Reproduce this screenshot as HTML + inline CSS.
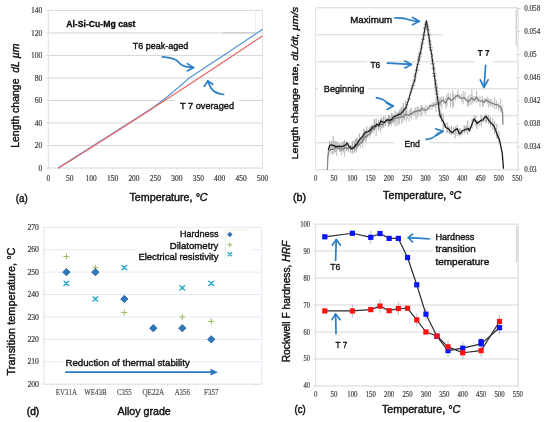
<!DOCTYPE html>
<html><head><meta charset="utf-8"><style>
html,body{margin:0;padding:0;background:#fff;}
svg{display:block;will-change:transform;filter:blur(0.3px);}
</style></head><body>
<svg width="550" height="422" viewBox="0 0 550 422">
<rect width="550" height="422" fill="#fff"/>
<line x1="46.30" y1="168.00" x2="262.50" y2="168.00" stroke="#d6d6d6" stroke-width="1"/>
<line x1="46.30" y1="145.49" x2="262.50" y2="145.49" stroke="#d6d6d6" stroke-width="1"/>
<line x1="46.30" y1="122.97" x2="262.50" y2="122.97" stroke="#d6d6d6" stroke-width="1"/>
<line x1="46.30" y1="100.46" x2="175.50" y2="100.46" stroke="#d6d6d6" stroke-width="1"/>
<line x1="239.00" y1="100.46" x2="262.50" y2="100.46" stroke="#d6d6d6" stroke-width="1"/>
<line x1="46.30" y1="77.94" x2="262.50" y2="77.94" stroke="#d6d6d6" stroke-width="1"/>
<line x1="46.30" y1="55.43" x2="262.50" y2="55.43" stroke="#d6d6d6" stroke-width="1"/>
<line x1="46.30" y1="32.92" x2="262.50" y2="32.92" stroke="#d6d6d6" stroke-width="1"/>
<line x1="46.30" y1="10.40" x2="262.50" y2="10.40" stroke="#d6d6d6" stroke-width="1"/>
<line x1="48.30" y1="10.40" x2="48.30" y2="168.00" stroke="#e2e2e2" stroke-width="1"/>
<line x1="262.50" y1="10.40" x2="262.50" y2="168.00" stroke="#e2e2e2" stroke-width="1"/>
<line x1="48.30" y1="168.00" x2="48.30" y2="170.00" stroke="#e2e2e2" stroke-width="1"/>
<line x1="69.72" y1="168.00" x2="69.72" y2="170.00" stroke="#e2e2e2" stroke-width="1"/>
<line x1="91.15" y1="168.00" x2="91.15" y2="170.00" stroke="#e2e2e2" stroke-width="1"/>
<line x1="112.58" y1="168.00" x2="112.58" y2="170.00" stroke="#e2e2e2" stroke-width="1"/>
<line x1="134.00" y1="168.00" x2="134.00" y2="170.00" stroke="#e2e2e2" stroke-width="1"/>
<line x1="155.43" y1="168.00" x2="155.43" y2="170.00" stroke="#e2e2e2" stroke-width="1"/>
<line x1="176.85" y1="168.00" x2="176.85" y2="170.00" stroke="#e2e2e2" stroke-width="1"/>
<line x1="198.27" y1="168.00" x2="198.27" y2="170.00" stroke="#e2e2e2" stroke-width="1"/>
<line x1="219.70" y1="168.00" x2="219.70" y2="170.00" stroke="#e2e2e2" stroke-width="1"/>
<line x1="241.12" y1="168.00" x2="241.12" y2="170.00" stroke="#e2e2e2" stroke-width="1"/>
<line x1="262.55" y1="168.00" x2="262.55" y2="170.00" stroke="#e2e2e2" stroke-width="1"/>
<text x="42.20" y="170.60" font-family='"Liberation Serif", serif' font-size="7.8" font-weight="normal" text-anchor="end" fill="#404040" textLength="3.77" lengthAdjust="spacingAndGlyphs" stroke="#404040" stroke-width="0.2">0</text>
<text x="42.20" y="148.09" font-family='"Liberation Serif", serif' font-size="7.8" font-weight="normal" text-anchor="end" fill="#404040" textLength="7.54" lengthAdjust="spacingAndGlyphs" stroke="#404040" stroke-width="0.2">20</text>
<text x="42.20" y="125.57" font-family='"Liberation Serif", serif' font-size="7.8" font-weight="normal" text-anchor="end" fill="#404040" textLength="7.54" lengthAdjust="spacingAndGlyphs" stroke="#404040" stroke-width="0.2">40</text>
<text x="42.20" y="103.06" font-family='"Liberation Serif", serif' font-size="7.8" font-weight="normal" text-anchor="end" fill="#404040" textLength="7.54" lengthAdjust="spacingAndGlyphs" stroke="#404040" stroke-width="0.2">60</text>
<text x="42.20" y="80.54" font-family='"Liberation Serif", serif' font-size="7.8" font-weight="normal" text-anchor="end" fill="#404040" textLength="7.54" lengthAdjust="spacingAndGlyphs" stroke="#404040" stroke-width="0.2">80</text>
<text x="42.20" y="58.03" font-family='"Liberation Serif", serif' font-size="7.8" font-weight="normal" text-anchor="end" fill="#404040" textLength="11.31" lengthAdjust="spacingAndGlyphs" stroke="#404040" stroke-width="0.2">100</text>
<text x="42.20" y="35.52" font-family='"Liberation Serif", serif' font-size="7.8" font-weight="normal" text-anchor="end" fill="#404040" textLength="11.31" lengthAdjust="spacingAndGlyphs" stroke="#404040" stroke-width="0.2">120</text>
<text x="42.20" y="13.00" font-family='"Liberation Serif", serif' font-size="7.8" font-weight="normal" text-anchor="end" fill="#404040" textLength="11.31" lengthAdjust="spacingAndGlyphs" stroke="#404040" stroke-width="0.2">140</text>
<text x="48.30" y="181.20" font-family='"Liberation Serif", serif' font-size="7.8" font-weight="normal" text-anchor="middle" fill="#404040" textLength="3.73" lengthAdjust="spacingAndGlyphs" stroke="#404040" stroke-width="0.2">0</text>
<text x="69.72" y="181.20" font-family='"Liberation Serif", serif' font-size="7.8" font-weight="normal" text-anchor="middle" fill="#404040" textLength="7.46" lengthAdjust="spacingAndGlyphs" stroke="#404040" stroke-width="0.2">50</text>
<text x="91.15" y="181.20" font-family='"Liberation Serif", serif' font-size="7.8" font-weight="normal" text-anchor="middle" fill="#404040" textLength="11.19" lengthAdjust="spacingAndGlyphs" stroke="#404040" stroke-width="0.2">100</text>
<text x="112.58" y="181.20" font-family='"Liberation Serif", serif' font-size="7.8" font-weight="normal" text-anchor="middle" fill="#404040" textLength="11.19" lengthAdjust="spacingAndGlyphs" stroke="#404040" stroke-width="0.2">150</text>
<text x="134.00" y="181.20" font-family='"Liberation Serif", serif' font-size="7.8" font-weight="normal" text-anchor="middle" fill="#404040" textLength="11.19" lengthAdjust="spacingAndGlyphs" stroke="#404040" stroke-width="0.2">200</text>
<text x="155.43" y="181.20" font-family='"Liberation Serif", serif' font-size="7.8" font-weight="normal" text-anchor="middle" fill="#404040" textLength="11.19" lengthAdjust="spacingAndGlyphs" stroke="#404040" stroke-width="0.2">250</text>
<text x="176.85" y="181.20" font-family='"Liberation Serif", serif' font-size="7.8" font-weight="normal" text-anchor="middle" fill="#404040" textLength="11.19" lengthAdjust="spacingAndGlyphs" stroke="#404040" stroke-width="0.2">300</text>
<text x="198.27" y="181.20" font-family='"Liberation Serif", serif' font-size="7.8" font-weight="normal" text-anchor="middle" fill="#404040" textLength="11.19" lengthAdjust="spacingAndGlyphs" stroke="#404040" stroke-width="0.2">350</text>
<text x="219.70" y="181.20" font-family='"Liberation Serif", serif' font-size="7.8" font-weight="normal" text-anchor="middle" fill="#404040" textLength="11.19" lengthAdjust="spacingAndGlyphs" stroke="#404040" stroke-width="0.2">400</text>
<text x="241.12" y="181.20" font-family='"Liberation Serif", serif' font-size="7.8" font-weight="normal" text-anchor="middle" fill="#404040" textLength="11.19" lengthAdjust="spacingAndGlyphs" stroke="#404040" stroke-width="0.2">450</text>
<text x="262.55" y="181.20" font-family='"Liberation Serif", serif' font-size="7.8" font-weight="normal" text-anchor="middle" fill="#404040" textLength="11.19" lengthAdjust="spacingAndGlyphs" stroke="#404040" stroke-width="0.2">500</text>
<line x1="223.00" y1="32.90" x2="255.50" y2="32.90" stroke="#c2c2c2" stroke-width="1"/>
<line x1="255.50" y1="10.50" x2="255.50" y2="32.00" stroke="#eeeeee" stroke-width="1"/>
<path d="M58.20,167.85 L59.20,167.22 L60.20,166.59 L61.20,165.96 L62.20,165.33 L63.20,164.70 L64.20,164.07 L65.20,163.44 L66.20,162.81 L67.20,162.18 L68.20,161.55 L69.20,160.92 L70.20,160.29 L71.20,159.66 L72.20,159.03 L73.20,158.40 L74.20,157.77 L75.20,157.14 L76.20,156.51 L77.20,155.88 L78.20,155.25 L79.20,154.62 L80.20,153.99 L81.20,153.36 L82.20,152.73 L83.20,152.10 L84.20,151.47 L85.20,150.84 L86.20,150.20 L87.20,149.57 L88.20,148.94 L89.20,148.31 L90.20,147.68 L91.20,147.05 L92.20,146.41 L93.20,145.78 L94.20,145.15 L95.20,144.52 L96.20,143.89 L97.20,143.25 L98.20,142.62 L99.20,141.99 L100.20,141.35 L101.20,140.72 L102.20,140.09 L103.20,139.45 L104.20,138.82 L105.20,138.18 L106.20,137.55 L107.20,136.92 L108.20,136.28 L109.20,135.65 L110.20,135.01 L111.20,134.38 L112.20,133.74 L113.20,133.10 L114.20,132.47 L115.20,131.83 L116.20,131.20 L117.20,130.56 L118.20,129.92 L119.20,129.29 L120.20,128.65 L121.20,128.01 L122.20,127.37 L123.20,126.74 L124.20,126.10 L125.20,125.46 L126.20,124.82 L127.20,124.18 L128.20,123.54 L129.20,122.90 L130.20,122.26 L131.20,121.62 L132.20,120.98 L133.20,120.34 L134.20,119.70 L135.20,119.06 L136.20,118.42 L137.20,117.78 L138.20,117.14 L139.20,116.49 L140.20,115.85 L141.20,115.21 L142.20,114.57 L143.20,113.92 L144.20,113.28 L145.20,112.64 L146.20,111.99 L147.20,111.35 L148.20,110.70 L149.20,110.06 L150.20,109.41 L151.20,108.74 L152.20,108.06 L153.20,107.37 L154.20,106.66 L155.20,105.94 L156.20,105.22 L157.20,104.48 L158.20,103.74 L159.20,103.00 L160.20,102.24 L161.20,101.48 L162.20,100.71 L163.20,99.93 L164.20,99.15 L165.20,98.36 L166.20,97.57 L167.20,96.77 L168.20,95.97 L169.20,95.16 L170.20,94.34 L171.20,93.52 L172.20,92.69 L173.20,91.86 L174.20,91.03 L175.20,90.19 L176.20,89.34 L177.20,88.49 L178.20,87.64 L179.20,86.78 L180.20,85.91 L181.20,85.04 L182.20,84.17 L183.20,83.29 L184.20,82.41 L185.20,81.52 L186.20,80.63 L187.20,79.74 L188.20,78.84 L189.20,77.99 L190.20,77.33 L191.20,76.67 L192.20,76.02 L193.20,75.36 L194.20,74.70 L195.20,74.05 L196.20,73.39 L197.20,72.73 L198.20,72.07 L199.20,71.41 L200.20,70.76 L201.20,70.10 L202.20,69.44 L203.20,68.78 L204.20,68.12 L205.20,67.46 L206.20,66.80 L207.20,66.14 L208.20,65.48 L209.20,64.82 L210.20,64.16 L211.20,63.50 L212.20,62.84 L213.20,62.17 L214.20,61.51 L215.20,60.85 L216.20,60.19 L217.20,59.53 L218.20,58.87 L219.20,58.20 L220.20,57.54 L221.20,56.88 L222.20,56.21 L223.20,55.55 L224.20,54.89 L225.20,54.22 L226.20,53.56 L227.20,52.90 L228.20,52.23 L229.20,51.57 L230.20,50.90 L231.20,50.24 L232.20,49.58 L233.20,48.91 L234.20,48.25 L235.20,47.58 L236.20,46.92 L237.20,46.25 L238.20,45.59 L239.20,44.92 L240.20,44.26 L241.20,43.59 L242.20,42.92 L243.20,42.26 L244.20,41.59 L245.20,40.93 L246.20,40.26 L247.20,39.60 L248.20,38.93 L249.20,38.26 L250.20,37.60 L251.20,36.93 L252.20,36.26 L253.20,35.60 L254.20,34.93 L255.20,34.27 L256.20,33.60 L257.20,32.93 L258.20,32.27 L259.20,31.60 L260.20,30.93 L261.20,30.27 L262.20,29.60 L262.50,29.40" stroke="#5a97d3" stroke-width="1.25" fill="none" stroke-linejoin="round"/>
<path d="M58.20,168.30 L59.20,167.67 L60.20,167.04 L61.20,166.41 L62.20,165.78 L63.20,165.15 L64.20,164.52 L65.20,163.89 L66.20,163.26 L67.20,162.63 L68.20,162.00 L69.20,161.37 L70.20,160.74 L71.20,160.11 L72.20,159.48 L73.20,158.85 L74.20,158.22 L75.20,157.59 L76.20,156.96 L77.20,156.33 L78.20,155.70 L79.20,155.07 L80.20,154.44 L81.20,153.81 L82.20,153.18 L83.20,152.55 L84.20,151.92 L85.20,151.29 L86.20,150.65 L87.20,150.02 L88.20,149.39 L89.20,148.76 L90.20,148.13 L91.20,147.50 L92.20,146.86 L93.20,146.23 L94.20,145.60 L95.20,144.97 L96.20,144.34 L97.20,143.70 L98.20,143.07 L99.20,142.44 L100.20,141.80 L101.20,141.17 L102.20,140.54 L103.20,139.90 L104.20,139.27 L105.20,138.63 L106.20,138.00 L107.20,137.37 L108.20,136.73 L109.20,136.10 L110.20,135.46 L111.20,134.83 L112.20,134.19 L113.20,133.55 L114.20,132.92 L115.20,132.28 L116.20,131.65 L117.20,131.01 L118.20,130.37 L119.20,129.74 L120.20,129.10 L121.20,128.46 L122.20,127.82 L123.20,127.19 L124.20,126.55 L125.20,125.91 L126.20,125.27 L127.20,124.63 L128.20,123.99 L129.20,123.35 L130.20,122.71 L131.20,122.07 L132.20,121.43 L133.20,120.79 L134.20,120.15 L135.20,119.51 L136.20,118.87 L137.20,118.23 L138.20,117.59 L139.20,116.94 L140.20,116.30 L141.20,115.66 L142.20,115.02 L143.20,114.37 L144.20,113.73 L145.20,113.09 L146.20,112.44 L147.20,111.80 L148.20,111.15 L149.20,110.51 L150.20,109.86 L151.20,109.22 L152.20,108.57 L153.20,107.93 L154.20,107.28 L155.20,106.63 L156.20,105.99 L157.20,105.34 L158.20,104.69 L159.20,104.05 L160.20,103.40 L161.20,102.75 L162.20,102.10 L163.20,101.45 L164.20,100.80 L165.20,100.15 L166.20,99.50 L167.20,98.85 L168.20,98.20 L169.20,97.55 L170.20,96.90 L171.20,96.25 L172.20,95.60 L173.20,94.95 L174.20,94.30 L175.20,93.65 L176.20,92.99 L177.20,92.34 L178.20,91.69 L179.20,91.03 L180.20,90.38 L181.20,89.73 L182.20,89.07 L183.20,88.42 L184.20,87.76 L185.20,87.11 L186.20,86.45 L187.20,85.80 L188.20,85.14 L189.20,84.49 L190.20,83.83 L191.20,83.17 L192.20,82.52 L193.20,81.86 L194.20,81.20 L195.20,80.55 L196.20,79.89 L197.20,79.23 L198.20,78.57 L199.20,77.91 L200.20,77.26 L201.20,76.60 L202.20,75.94 L203.20,75.28 L204.20,74.62 L205.20,73.96 L206.20,73.30 L207.20,72.64 L208.20,71.98 L209.20,71.32 L210.20,70.66 L211.20,70.00 L212.20,69.34 L213.20,68.67 L214.20,68.01 L215.20,67.35 L216.20,66.69 L217.20,66.03 L218.20,65.37 L219.20,64.70 L220.20,64.04 L221.20,63.38 L222.20,62.71 L223.20,62.05 L224.20,61.39 L225.20,60.72 L226.20,60.06 L227.20,59.40 L228.20,58.73 L229.20,58.07 L230.20,57.40 L231.20,56.74 L232.20,56.08 L233.20,55.41 L234.20,54.75 L235.20,54.08 L236.20,53.42 L237.20,52.75 L238.20,52.09 L239.20,51.42 L240.20,50.76 L241.20,50.09 L242.20,49.42 L243.20,48.76 L244.20,48.09 L245.20,47.43 L246.20,46.76 L247.20,46.10 L248.20,45.43 L249.20,44.76 L250.20,44.10 L251.20,43.43 L252.20,42.76 L253.20,42.10 L254.20,41.43 L255.20,40.77 L256.20,40.10 L257.20,39.43 L258.20,38.77 L259.20,38.10 L260.20,37.43 L261.20,36.77 L262.20,36.10 L262.50,35.90" stroke="#ea6767" stroke-width="1.25" fill="none" stroke-linejoin="round"/>
<text x="66.20" y="26.90" font-family='"Liberation Sans", sans-serif' font-size="9.3" font-weight="bold" text-anchor="start" fill="#0a0a0a" textLength="69.30" lengthAdjust="spacingAndGlyphs" stroke="#0a0a0a" stroke-width="0.3">Al-Si-Cu-Mg cast</text>
<text x="132.70" y="48.80" font-family='"Liberation Sans", sans-serif' font-size="9.9" font-weight="normal" text-anchor="start" fill="#111" textLength="55.50" lengthAdjust="spacingAndGlyphs" stroke="#111" stroke-width="0.4">T6 peak-aged</text>
<text x="180.00" y="109.10" font-family='"Liberation Sans", sans-serif' font-size="9.9" font-weight="normal" text-anchor="start" fill="#111" textLength="54.00" lengthAdjust="spacingAndGlyphs" stroke="#111" stroke-width="0.4">T 7 overaged</text>
<path d="M162.4,56.9 C170,57.5 176,58.5 178.5,62 C181,66 186,67.3 193.6,67.6" stroke="#2a7ec6" stroke-width="1.7" fill="none" stroke-linecap="round"/>
<path d="M187.3,63.6 L193.6,67.6 L187.3,70.9" stroke="#2a7ec6" stroke-width="1.7" fill="none" stroke-linecap="round" stroke-linejoin="round"/>
<path d="M223.6,94.5 C217,93.5 213,91.5 211,88 C209.5,85.5 208.5,83 207.8,80.9" stroke="#2a7ec6" stroke-width="1.7" fill="none" stroke-linecap="round"/>
<path d="M204.3,86.4 L207.8,80.9 L212.7,84.3" stroke="#2a7ec6" stroke-width="1.7" fill="none" stroke-linecap="round" stroke-linejoin="round"/>
<text transform="translate(19.10,147.80) rotate(-90)" font-family='"Liberation Sans", sans-serif' font-size="10.0" font-weight="normal" text-anchor="start" fill="#111" textLength="104.20" lengthAdjust="spacingAndGlyphs" stroke="#111" stroke-width="0.4">Length change  <tspan font-style="italic">dL µm</tspan></text>
<text x="129.50" y="201.00" font-family='"Liberation Sans", sans-serif' font-size="10.4" font-weight="normal" text-anchor="start" fill="#111" textLength="78.00" lengthAdjust="spacingAndGlyphs" stroke="#111" stroke-width="0.4">Temperature, <tspan font-style="italic">°C</tspan></text>
<text x="15.80" y="201.50" font-family='"Liberation Sans", sans-serif' font-size="10.4" font-weight="normal" text-anchor="start" fill="#111" textLength="12.00" lengthAdjust="spacingAndGlyphs" stroke="#111" stroke-width="0.4">(a)</text>
<line x1="315.60" y1="7.80" x2="518.00" y2="7.80" stroke="#d6d6d6" stroke-width="1"/>
<line x1="315.60" y1="34.80" x2="442.70" y2="34.80" stroke="#d6d6d6" stroke-width="1"/>
<line x1="315.60" y1="61.80" x2="367.00" y2="61.80" stroke="#d6d6d6" stroke-width="1"/>
<line x1="386.00" y1="61.80" x2="474.00" y2="61.80" stroke="#d6d6d6" stroke-width="1"/>
<line x1="493.00" y1="61.80" x2="518.00" y2="61.80" stroke="#d6d6d6" stroke-width="1"/>
<line x1="315.60" y1="88.80" x2="318.00" y2="88.80" stroke="#d6d6d6" stroke-width="1"/>
<line x1="367.40" y1="88.80" x2="518.00" y2="88.80" stroke="#d6d6d6" stroke-width="1"/>
<line x1="315.60" y1="115.80" x2="518.00" y2="115.80" stroke="#d6d6d6" stroke-width="1"/>
<line x1="315.60" y1="142.80" x2="394.20" y2="142.80" stroke="#d6d6d6" stroke-width="1"/>
<line x1="429.80" y1="142.80" x2="518.00" y2="142.80" stroke="#d6d6d6" stroke-width="1"/>
<line x1="315.60" y1="169.80" x2="518.00" y2="169.80" stroke="#d6d6d6" stroke-width="1"/>
<line x1="315.60" y1="7.80" x2="315.60" y2="169.80" stroke="#e2e2e2" stroke-width="1"/>
<line x1="518.00" y1="7.80" x2="518.00" y2="169.80" stroke="#d6d6d6" stroke-width="1"/>
<line x1="516.30" y1="9.60" x2="516.30" y2="45.90" stroke="#cdcdcd" stroke-width="1.2"/>
<line x1="315.60" y1="169.80" x2="315.60" y2="171.50" stroke="#e2e2e2" stroke-width="1"/>
<text x="315.60" y="180.80" font-family='"Liberation Serif", serif' font-size="7.6" font-weight="normal" text-anchor="middle" fill="#404040" textLength="3.37" lengthAdjust="spacingAndGlyphs" stroke="#404040" stroke-width="0.2">0</text>
<line x1="333.93" y1="169.80" x2="333.93" y2="171.50" stroke="#e2e2e2" stroke-width="1"/>
<text x="333.93" y="180.80" font-family='"Liberation Serif", serif' font-size="7.6" font-weight="normal" text-anchor="middle" fill="#404040" textLength="6.74" lengthAdjust="spacingAndGlyphs" stroke="#404040" stroke-width="0.2">50</text>
<line x1="352.26" y1="169.80" x2="352.26" y2="171.50" stroke="#e2e2e2" stroke-width="1"/>
<text x="352.26" y="180.80" font-family='"Liberation Serif", serif' font-size="7.6" font-weight="normal" text-anchor="middle" fill="#404040" textLength="10.11" lengthAdjust="spacingAndGlyphs" stroke="#404040" stroke-width="0.2">100</text>
<line x1="370.59" y1="169.80" x2="370.59" y2="171.50" stroke="#e2e2e2" stroke-width="1"/>
<text x="370.59" y="180.80" font-family='"Liberation Serif", serif' font-size="7.6" font-weight="normal" text-anchor="middle" fill="#404040" textLength="10.11" lengthAdjust="spacingAndGlyphs" stroke="#404040" stroke-width="0.2">150</text>
<line x1="388.92" y1="169.80" x2="388.92" y2="171.50" stroke="#e2e2e2" stroke-width="1"/>
<text x="388.92" y="180.80" font-family='"Liberation Serif", serif' font-size="7.6" font-weight="normal" text-anchor="middle" fill="#404040" textLength="10.11" lengthAdjust="spacingAndGlyphs" stroke="#404040" stroke-width="0.2">200</text>
<line x1="407.25" y1="169.80" x2="407.25" y2="171.50" stroke="#e2e2e2" stroke-width="1"/>
<text x="407.25" y="180.80" font-family='"Liberation Serif", serif' font-size="7.6" font-weight="normal" text-anchor="middle" fill="#404040" textLength="10.11" lengthAdjust="spacingAndGlyphs" stroke="#404040" stroke-width="0.2">250</text>
<line x1="425.58" y1="169.80" x2="425.58" y2="171.50" stroke="#e2e2e2" stroke-width="1"/>
<text x="425.58" y="180.80" font-family='"Liberation Serif", serif' font-size="7.6" font-weight="normal" text-anchor="middle" fill="#404040" textLength="10.11" lengthAdjust="spacingAndGlyphs" stroke="#404040" stroke-width="0.2">300</text>
<line x1="443.91" y1="169.80" x2="443.91" y2="171.50" stroke="#e2e2e2" stroke-width="1"/>
<text x="443.91" y="180.80" font-family='"Liberation Serif", serif' font-size="7.6" font-weight="normal" text-anchor="middle" fill="#404040" textLength="10.11" lengthAdjust="spacingAndGlyphs" stroke="#404040" stroke-width="0.2">350</text>
<line x1="462.24" y1="169.80" x2="462.24" y2="171.50" stroke="#e2e2e2" stroke-width="1"/>
<text x="462.24" y="180.80" font-family='"Liberation Serif", serif' font-size="7.6" font-weight="normal" text-anchor="middle" fill="#404040" textLength="10.11" lengthAdjust="spacingAndGlyphs" stroke="#404040" stroke-width="0.2">400</text>
<line x1="480.57" y1="169.80" x2="480.57" y2="171.50" stroke="#e2e2e2" stroke-width="1"/>
<text x="480.57" y="180.80" font-family='"Liberation Serif", serif' font-size="7.6" font-weight="normal" text-anchor="middle" fill="#404040" textLength="10.11" lengthAdjust="spacingAndGlyphs" stroke="#404040" stroke-width="0.2">450</text>
<line x1="498.90" y1="169.80" x2="498.90" y2="171.50" stroke="#e2e2e2" stroke-width="1"/>
<text x="498.90" y="180.80" font-family='"Liberation Serif", serif' font-size="7.6" font-weight="normal" text-anchor="middle" fill="#404040" textLength="10.11" lengthAdjust="spacingAndGlyphs" stroke="#404040" stroke-width="0.2">500</text>
<line x1="517.23" y1="169.80" x2="517.23" y2="171.50" stroke="#e2e2e2" stroke-width="1"/>
<text x="517.23" y="180.80" font-family='"Liberation Serif", serif' font-size="7.6" font-weight="normal" text-anchor="middle" fill="#404040" textLength="10.11" lengthAdjust="spacingAndGlyphs" stroke="#404040" stroke-width="0.2">550</text>
<line x1="516.50" y1="8.50" x2="520.50" y2="8.50" stroke="#d6d6d6" stroke-width="1"/>
<text x="524.20" y="11.00" font-family='"Liberation Serif", serif' font-size="7.6" font-weight="normal" text-anchor="start" fill="#404040" textLength="16.02" lengthAdjust="spacingAndGlyphs" stroke="#404040" stroke-width="0.2">0.058</text>
<line x1="516.50" y1="31.57" x2="520.50" y2="31.57" stroke="#d6d6d6" stroke-width="1"/>
<text x="524.20" y="34.07" font-family='"Liberation Serif", serif' font-size="7.6" font-weight="normal" text-anchor="start" fill="#404040" textLength="16.02" lengthAdjust="spacingAndGlyphs" stroke="#404040" stroke-width="0.2">0.054</text>
<line x1="516.50" y1="54.64" x2="520.50" y2="54.64" stroke="#d6d6d6" stroke-width="1"/>
<text x="524.20" y="57.14" font-family='"Liberation Serif", serif' font-size="7.6" font-weight="normal" text-anchor="start" fill="#404040" textLength="12.46" lengthAdjust="spacingAndGlyphs" stroke="#404040" stroke-width="0.2">0.05</text>
<line x1="516.50" y1="77.71" x2="520.50" y2="77.71" stroke="#d6d6d6" stroke-width="1"/>
<text x="524.20" y="80.21" font-family='"Liberation Serif", serif' font-size="7.6" font-weight="normal" text-anchor="start" fill="#404040" textLength="16.02" lengthAdjust="spacingAndGlyphs" stroke="#404040" stroke-width="0.2">0.046</text>
<line x1="516.50" y1="100.78" x2="520.50" y2="100.78" stroke="#d6d6d6" stroke-width="1"/>
<text x="524.20" y="103.28" font-family='"Liberation Serif", serif' font-size="7.6" font-weight="normal" text-anchor="start" fill="#404040" textLength="16.02" lengthAdjust="spacingAndGlyphs" stroke="#404040" stroke-width="0.2">0.042</text>
<line x1="516.50" y1="123.85" x2="520.50" y2="123.85" stroke="#d6d6d6" stroke-width="1"/>
<text x="524.20" y="126.35" font-family='"Liberation Serif", serif' font-size="7.6" font-weight="normal" text-anchor="start" fill="#404040" textLength="16.02" lengthAdjust="spacingAndGlyphs" stroke="#404040" stroke-width="0.2">0.038</text>
<line x1="516.50" y1="146.92" x2="520.50" y2="146.92" stroke="#d6d6d6" stroke-width="1"/>
<text x="524.20" y="149.42" font-family='"Liberation Serif", serif' font-size="7.6" font-weight="normal" text-anchor="start" fill="#404040" textLength="16.02" lengthAdjust="spacingAndGlyphs" stroke="#404040" stroke-width="0.2">0.034</text>
<line x1="516.50" y1="169.99" x2="520.50" y2="169.99" stroke="#d6d6d6" stroke-width="1"/>
<text x="524.20" y="172.49" font-family='"Liberation Serif", serif' font-size="7.6" font-weight="normal" text-anchor="start" fill="#404040" textLength="12.46" lengthAdjust="spacingAndGlyphs" stroke="#404040" stroke-width="0.2">0.03</text>
<path d="M331.00,142.97 V154.36 M332.52,145.93 V154.41 M334.05,145.50 V153.90 M335.88,141.80 V152.17 M336.79,141.07 V155.92 M339.16,145.97 V149.89 M340.33,146.51 V151.74 M341.51,142.24 V155.26 M343.00,143.35 V152.59 M344.50,139.56 V156.47 M346.90,145.75 V150.48 M348.40,143.02 V152.16 M350.50,145.25 V152.93 M352.86,140.82 V151.23 M355.23,139.50 V149.98 M356.11,140.00 V150.22 M357.00,142.84 V147.03 M358.20,140.59 V146.90 M360.30,138.35 V148.32 M361.50,137.83 V144.21 M362.70,135.01 V147.82 M365.10,131.92 V142.00 M366.30,131.14 V141.24 M367.50,131.66 V137.03 M369.60,128.71 V137.83 M370.50,125.25 V135.75 M372.00,125.49 V134.00 M373.80,123.99 V132.78 M376.20,122.38 V136.25 M378.30,121.06 V128.86 M380.40,119.40 V132.22 M381.30,117.40 V128.74 M382.50,120.27 V127.69 M383.70,116.47 V128.07 M385.50,120.92 V125.26 M387.90,120.18 V124.32 M389.40,119.02 V125.60 M391.20,114.63 V126.47 M393.60,118.32 V123.19 M394.80,115.51 V126.58 M396.90,113.56 V126.35 M398.40,111.69 V124.04 M399.30,110.29 V124.79 M401.40,109.21 V123.82 M402.90,108.33 V122.36 M404.40,111.33 V120.13 M406.19,107.52 V122.07 M407.07,109.79 V119.12 M409.15,110.31 V121.45 M410.63,108.55 V117.21 M411.52,108.11 V119.47 M413.60,110.48 V115.25 M414.82,107.92 V115.78 M416.04,106.71 V119.21 M417.56,106.21 V117.57 M418.78,107.07 V114.79 M420.90,104.90 V116.89 M422.10,105.25 V114.94 M424.20,107.03 V112.93 M425.70,105.35 V115.06 M427.50,105.81 V110.88 M429.93,104.19 V109.95 M432.08,102.80 V109.87 M433.31,102.15 V107.25 M434.85,101.93 V107.25 M436.08,97.61 V111.82 M437.90,100.39 V105.82 M439.70,97.33 V105.76 M440.60,97.43 V105.98 M441.80,95.97 V108.31 M443.61,96.52 V103.69 M445.79,97.76 V108.64 M446.95,93.72 V106.50 M448.40,92.38 V100.59 M450.59,93.46 V107.36 M452.64,90.20 V108.46 M453.80,93.65 V106.56 M455.65,94.47 V100.53 M457.80,89.81 V98.68 M459.60,93.74 V98.96 M461.70,94.49 V102.27 M463.20,90.70 V104.51 M465.00,92.01 V101.21 M467.40,97.61 V107.04 M468.60,95.28 V106.35 M470.40,94.10 V104.98 M471.89,89.56 V104.55 M473.05,95.85 V102.45 M474.82,96.14 V102.24 M476.70,91.05 V103.10 M478.20,96.90 V102.09 M480.00,95.75 V107.04 M482.42,95.81 V107.19 M483.37,99.36 V106.20 M484.95,97.41 V102.73 M487.10,96.70 V103.45 M488.30,98.39 V107.78 M489.80,98.71 V105.54 M491.00,98.96 V106.68 M492.80,101.28 V106.94 M494.62,97.93 V109.32 M496.47,100.46 V108.96 M498.60,102.51 V110.84 M500.73,98.55 V112.17 M502.00,105.30 V113.06" stroke="#c2c2c2" stroke-width="1.1" fill="none" opacity="1.0"/>
<path d="M329.50,140.95 V148.59 M331.62,140.94 V147.38 M333.19,136.15 V148.64 M335.06,140.49 V152.18 M336.62,144.96 V147.99 M337.85,142.22 V149.79 M339.69,143.27 V151.81 M340.88,145.50 V150.78 M343.21,141.59 V151.35 M344.67,141.28 V147.86 M346.42,141.14 V150.65 M348.47,143.54 V149.02 M350.52,145.06 V151.14 M352.27,142.00 V153.78 M354.30,140.88 V152.70 M356.10,137.67 V152.62 M357.29,138.14 V148.80 M359.31,133.48 V145.17 M361.15,136.46 V141.07 M363.00,132.82 V141.13 M363.88,128.84 V141.16 M365.06,129.80 V138.65 M366.82,126.60 V138.50 M369.23,127.22 V132.64 M371.69,125.14 V130.19 M372.89,124.42 V130.09 M374.36,119.35 V130.19 M376.12,118.24 V127.47 M378.54,119.91 V130.54 M380.38,118.91 V125.97 M381.62,117.76 V123.55 M383.46,116.73 V124.61 M385.29,116.78 V125.89 M387.06,118.19 V121.24 M388.52,114.72 V126.87 M389.70,115.65 V122.65 M391.85,112.51 V123.96 M392.77,114.32 V122.19 M395.17,110.40 V121.85 M397.23,112.44 V118.06 M398.99,111.87 V115.97 M400.16,108.55 V117.23 M401.63,107.04 V116.12 M403.38,102.89 V115.09 M405.70,100.60 V114.72" stroke="#acacac" stroke-width="1.1" fill="none" opacity="1.0"/>
<path d="M440.00,111.06 V118.56 M441.45,112.50 V121.95 M443.19,113.73 V130.97 M444.35,122.35 V126.61 M445.22,122.92 V127.28 M447.05,122.38 V133.30 M447.99,125.36 V132.04 M449.55,126.91 V134.03 M451.44,125.66 V135.21 M453.65,127.34 V134.50 M455.21,126.49 V138.40 M457.09,124.87 V135.82 M459.20,128.60 V135.73 M460.10,128.11 V136.53 M461.94,130.31 V135.10 M464.10,125.28 V133.62 M465.04,126.60 V132.47 M466.29,125.20 V131.34 M467.76,120.49 V134.75 M470.07,125.67 V131.74 M472.12,118.78 V128.50 M474.30,115.42 V122.14 M475.80,115.41 V125.99 M477.00,120.02 V128.88 M479.10,120.68 V126.01 M481.20,114.42 V126.23 M483.00,116.89 V122.67 M485.10,114.83 V121.50 M486.00,114.07 V123.29 M486.90,115.34 V121.80 M488.70,114.81 V124.26 M490.44,117.07 V127.25 M492.83,118.16 V130.07 M494.68,121.14 V134.20 M496.80,123.82 V138.95 M498.90,131.34 V142.76" stroke="#b0b0b0" stroke-width="1.1" fill="none" opacity="1.0"/>
<path d="M404.49,107.39 H406.91 M404.33,107.92 H407.85 M405.34,105.11 H407.62 M406.03,104.46 H407.72 M406.27,104.38 H408.26 M407.05,101.90 H408.26 M407.35,101.41 H408.74 M406.62,99.31 H410.26 M408.22,98.71 H409.43 M407.73,98.45 H410.71 M409.05,95.68 H410.17 M409.19,94.73 H410.81 M409.45,94.55 H411.25 M409.19,92.38 H412.21 M410.24,91.31 H411.86 M410.61,91.08 H412.19 M410.72,89.48 H412.78 M410.21,88.16 H413.99 M411.51,87.79 H413.39 M410.75,85.52 H414.85 M411.72,85.56 H414.58 M412.18,82.91 H414.82 M413.27,83.18 H414.43 M412.34,80.87 H416.06 M413.07,79.89 H415.87 M413.77,79.59 H415.70 M413.39,76.84 H416.62 M414.76,76.07 H415.79 M414.41,75.47 H416.68 M414.10,73.85 H417.53 M415.31,71.71 H416.85 M415.30,70.67 H417.40 M414.64,69.94 H418.60 M415.30,69.65 H418.47 M416.20,67.49 H418.11 M416.67,66.72 H418.18 M417.19,65.57 H418.20 M416.02,64.33 H419.90 M417.59,61.98 H418.87 M416.78,60.39 H420.22 M417.45,59.89 H420.08 M416.90,58.89 H421.15 M417.33,57.08 H421.24 M417.71,56.06 H421.39 M417.75,54.16 H421.87 M418.17,53.15 H421.98 M418.91,52.55 H421.76 M419.83,51.91 H421.37 M419.83,49.63 H421.89 M420.50,48.37 H421.75 M420.09,47.95 H422.68 M420.54,46.65 H422.76 M421.23,44.82 H422.59 M420.89,44.72 H423.46 M420.53,42.85 H424.35 M422.18,41.05 H423.22 M421.23,39.54 H424.64 M421.71,38.75 H424.63 M422.88,38.58 H423.92 M421.77,35.78 H425.49 M422.32,34.71 H425.41 M422.96,33.98 H425.24 M423.33,32.34 H425.34 M423.40,31.77 H425.73 M423.86,29.60 H425.74 M423.29,28.63 H426.78 M423.16,27.86 H427.37 M423.77,26.16 H427.23 M423.83,24.45 H427.64 M425.23,23.22 H426.71 M424.55,23.22 H427.85 M425.59,20.60 H427.21 M424.68,22.18 H428.52 M426.15,22.63 H427.45 M426.23,23.62 H427.77 M426.01,24.71 H428.39 M425.33,26.60 H429.47 M426.23,28.23 H428.97 M426.00,29.77 H429.60 M426.84,29.98 H429.16 M427.00,30.54 H429.40 M427.22,33.10 H429.58 M426.41,34.52 H430.75 M427.14,35.40 H430.38 M428.41,36.09 H429.48 M428.04,37.98 H430.21 M428.63,38.67 H429.99 M428.12,40.74 H430.85 M427.77,41.63 H431.57 M429.08,43.18 H430.62 M428.00,43.99 H432.07 M429.11,45.14 H431.31 M429.65,46.81 H431.13 M428.40,47.66 H432.75 M429.04,49.54 H432.47 M430.10,51.00 H431.77 M429.55,50.75 H432.68 M430.66,52.09 H431.94 M429.99,54.24 H432.96 M430.59,55.96 H432.71 M430.71,56.28 H432.94 M431.29,58.55 H432.71 M431.44,59.66 H432.91 M430.93,60.22 H433.77 M431.07,60.88 H433.98 M430.65,63.58 H434.75 M430.99,64.05 H434.76 M432.34,65.75 H433.76 M432.23,67.14 H434.22 M432.49,67.75 H434.31 M431.66,68.22 H435.49 M432.32,69.25 H435.18 M433.37,70.71 H434.48 M431.92,73.48 H436.28 M432.65,73.43 H435.88 M432.79,75.50 H436.07 M433.44,76.43 H435.74 M432.89,76.49 H436.62 M434.08,78.61 H435.76 M434.34,79.66 H435.83 M433.78,80.45 H436.72 M434.03,81.84 H436.80 M434.11,83.19 H437.04 M434.15,83.82 H437.33 M434.27,85.25 H437.55 M433.94,87.37 H438.20 M434.94,88.21 H437.53 M434.84,89.98 H437.96 M434.79,91.39 H438.37 M435.44,93.17 H438.09 M435.02,94.18 H438.87 M435.93,94.63 H438.32 M435.85,96.87 H438.77 M436.10,97.40 H438.89 M436.44,99.44 H438.91 M436.81,99.04 H438.90 M436.30,102.02 H439.77 M436.47,102.70 H439.96 M436.62,103.41 H440.18 M437.07,104.18 H440.09 M438.04,106.18 H439.47 M437.58,107.33 H440.29 M438.52,109.17 H439.70 M437.89,109.50 H440.68 M438.45,111.06 H440.49 M438.74,111.65 H440.55 M437.77,114.69 H441.87 M438.37,115.73 H441.63" stroke="#9a9a9a" stroke-width="0.9" fill="none"/>
<path d="M327.40,170.00 L327.80,158.00 L328.95,151.24 L331.15,149.03 L332.64,149.77 L334.38,148.84 L335.57,146.41 L337.10,147.93 L339.45,148.18 L341.54,149.24 L343.78,148.82 L345.19,147.52 L347.07,148.70 L349.00,148.55 L350.38,146.17 L352.41,147.65 L353.73,146.98 L355.63,146.68 L357.24,145.64 L358.56,145.30 L360.28,142.97 L362.25,142.32 L363.42,138.56 L365.57,136.62 L366.81,136.46 L368.71,134.29 L370.80,132.48 L372.08,128.35 L374.16,129.40 L375.53,126.89 L377.35,125.65 L379.08,126.57 L380.81,124.13 L382.91,124.97 L384.40,121.91 L386.27,120.73 L387.80,121.28 L389.80,123.67 L391.31,120.42 L393.47,119.57 L394.88,117.89 L396.39,118.08 L398.46,117.34 L400.23,117.74 L401.45,116.13 L403.20,117.64 L404.87,114.89 L406.90,114.71 L408.61,115.39 L410.13,113.93 L411.57,114.16 L413.11,111.99 L415.01,111.60 L416.74,111.10 L418.49,110.34 L420.21,111.08 L421.79,108.14 L423.16,109.64 L425.21,110.04 L426.56,109.90 L428.36,108.35 L430.11,105.49 L431.31,105.66 L433.05,105.55 L435.00,104.75 L437.00,104.00 L438.00,103.50 L439.00,103.00 L440.00,102.50 L440.82,101.85 L441.65,101.20 L442.48,100.55 L443.30,99.90 L444.03,101.00 L444.77,102.10 L445.50,103.20 L445.98,102.23 L446.47,101.27 L446.95,100.30 L447.43,99.33 L447.92,98.37 L448.40,97.40 L449.02,98.20 L449.65,99.00 L450.27,99.80 L450.90,100.60 L451.87,99.90 L452.83,99.20 L453.80,98.50 L454.73,97.67 L455.65,96.85 L456.57,96.03 L457.50,95.20 L458.40,96.03 L459.30,96.85 L460.20,97.67 L461.10,98.50 L462.20,98.23 L463.30,97.97 L464.40,97.70 L465.12,98.58 L465.84,99.46 L466.56,100.34 L467.28,101.22 L468.00,102.10 L468.72,101.30 L469.44,100.50 L470.16,99.70 L470.88,98.90 L471.60,98.10 L472.57,98.83 L473.53,99.57 L474.50,100.30 L475.13,99.13 L475.77,97.97 L476.40,96.80 L477.00,97.75 L477.60,98.70 L478.20,99.65 L478.80,100.60 L479.90,100.77 L481.00,100.93 L482.10,101.10 L483.05,101.80 L484.00,102.50 L484.63,101.57 L485.27,100.63 L485.90,99.70 L486.70,100.33 L487.50,100.97 L488.30,101.60 L489.40,102.07 L490.50,102.53 L491.60,103.00 L492.80,103.50 L494.00,104.00 L495.23,104.30 L496.47,104.60 L497.70,104.90 L498.50,105.53 L499.30,106.17 L500.10,106.80 L500.73,107.73 L501.37,108.67 L502.00,109.60 L502.23,110.87 L502.47,112.13 L502.70,113.40 L502.72,114.44 L502.74,115.47 L502.75,116.51 L502.77,117.55 L502.79,118.58 L502.81,119.62 L502.83,120.65 L502.85,121.69 L502.86,122.73 L502.88,123.76 L502.90,124.80" stroke="#7a7a7a" stroke-width="1.2" fill="none" stroke-linejoin="round"/>
<path d="M327.40,170.00 L327.60,158.00 L328.40,150.00" stroke="#8a8a8a" stroke-width="0.9" fill="none"/>
<path d="M328.40,150.00 L329.50,146.00 L331.00,144.81 L333.63,145.34 L336.04,146.91 L337.79,146.38 L339.71,146.17 L341.72,146.73 L343.36,146.13 L345.49,145.07 L347.04,143.04 L349.04,146.45 L351.19,148.87 L353.89,147.81 L355.57,144.86 L357.05,143.86 L358.75,140.80 L360.85,138.11 L362.80,136.21 L364.84,132.98 L366.07,132.07 L367.83,131.58 L370.43,130.19 L372.46,127.15 L374.16,126.65 L375.58,125.93 L376.72,124.14 L378.78,125.11 L380.94,121.04 L382.75,122.10 L384.72,122.45 L386.71,120.02 L387.97,119.60 L389.55,120.66 L391.83,119.10 L393.90,116.55 L396.49,115.70 L398.34,114.69 L400.69,113.93 L402.92,111.38 L404.25,109.55 L405.70,108.10" stroke="#1a1a1a" stroke-width="1.3" fill="none" stroke-linejoin="round"/>
<path d="M405.96,108.10 L406.24,106.68 L406.93,105.26 L407.11,103.83 L407.54,102.41 L408.33,100.99 L408.48,99.57 L409.24,98.14 L409.32,96.72 L409.89,95.30 L410.25,93.72 L410.97,92.14 L411.16,90.57 L411.66,88.99 L412.13,87.41 L412.78,85.83 L413.13,84.26 L413.70,82.68 L414.55,81.10 L414.66,79.57 L415.12,78.04 L414.99,76.51 L415.44,74.98 L415.55,73.45 L416.32,71.92 L416.42,70.38 L416.69,68.85 L416.84,67.32 L417.29,65.79 L417.67,64.26 L418.09,62.73 L418.80,61.20 L418.97,59.67 L418.98,58.14 L419.37,56.61 L419.55,55.08 L420.42,53.55 L420.34,52.02 L420.95,50.48 L421.24,48.95 L421.69,47.42 L421.40,45.89 L421.93,44.36 L422.30,42.83 L422.41,41.30 L423.26,39.76 L423.16,38.22 L423.76,36.67 L423.88,35.13 L423.85,33.59 L424.38,32.05 L424.56,30.51 L424.71,28.97 L425.08,27.43 L425.68,25.88 L425.58,24.34 L426.07,22.80 L426.35,20.80 L426.68,22.29 L426.65,23.78 L427.29,25.26 L427.23,26.75 L427.81,28.24 L428.02,29.73 L427.90,31.21 L428.19,32.70 L428.47,34.23 L429.00,35.76 L429.00,37.29 L429.21,38.82 L429.77,40.35 L429.55,41.88 L429.82,43.42 L430.08,44.95 L430.21,46.48 L430.31,48.01 L430.52,49.54 L431.17,51.07 L431.35,52.60 L431.73,54.14 L432.06,55.68 L431.80,57.22 L432.28,58.75 L432.67,60.29 L432.39,61.83 L432.94,63.37 L433.14,64.91 L433.56,66.45 L433.71,67.98 L433.48,69.52 L433.98,71.06 L433.81,72.60 L434.26,74.15 L434.44,75.69 L434.42,77.24 L434.85,78.78 L435.03,80.33 L435.35,81.87 L435.41,83.42 L435.53,84.96 L435.91,86.51 L436.17,88.05 L436.17,89.60 L436.74,91.18 L436.66,92.76 L436.78,94.33 L437.18,95.91 L437.46,97.49 L437.49,99.07 L438.01,100.64 L438.32,102.22 L438.44,103.80 L438.77,105.40 L438.52,107.00 L439.01,108.60 L439.22,110.20 L439.24,111.80 L439.70,113.40 L439.69,115.00" stroke="#262626" stroke-width="1.1" fill="none" stroke-linejoin="round"/>
<path d="M440.00,115.00 L441.45,118.50 L442.90,121.03 L444.25,123.72 L445.65,127.51 L448.54,128.84 L450.84,131.89 L452.21,132.68 L454.88,130.14 L457.32,128.65 L459.10,133.61 L460.78,133.09 L462.47,130.72 L463.97,130.05 L466.80,129.01 L468.30,128.48 L469.22,130.78 L471.39,125.90 L473.92,118.86 L475.47,120.92 L477.14,123.39 L479.70,121.34 L481.53,120.17 L483.00,119.96 L484.74,116.96 L486.34,116.68 L489.20,120.88 L491.51,123.52 L493.83,125.73 L495.72,130.46 L497.66,136.12 L499.30,139.18 L502.20,152.90 L503.50,168.80" stroke="#1a1a1a" stroke-width="1.3" fill="none" stroke-linejoin="round"/>
<text x="350.20" y="23.35" font-family='"Liberation Sans", sans-serif' font-size="9.9" font-weight="normal" text-anchor="start" fill="#111" textLength="42.00" lengthAdjust="spacingAndGlyphs" stroke="#111" stroke-width="0.4">Maximum</text>
<path d="M394.4,18 C401,17.5 406,18.5 410,20 C413,21 416,21.3 419.3,21.3" stroke="#2a7ec6" stroke-width="1.7" fill="none" stroke-linecap="round"/>
<path d="M412.6,17.4 L419.3,21.3 L412.6,24.8" stroke="#2a7ec6" stroke-width="1.7" fill="none" stroke-linecap="round" stroke-linejoin="round"/>
<text x="370.40" y="68.10" font-family='"Liberation Sans", sans-serif' font-size="9.9" font-weight="normal" text-anchor="start" fill="#111" textLength="9.80" lengthAdjust="spacingAndGlyphs" stroke="#111" stroke-width="0.4">T6</text>
<path d="M387.3,63.1 C395,63.3 403,64 411.4,64.4" stroke="#2a7ec6" stroke-width="1.7" fill="none" stroke-linecap="round"/>
<path d="M404.8,61 L411.4,64.4 L404.8,67.9" stroke="#2a7ec6" stroke-width="1.7" fill="none" stroke-linecap="round" stroke-linejoin="round"/>
<text x="323.80" y="92.40" font-family='"Liberation Sans", sans-serif' font-size="9.9" font-weight="normal" text-anchor="start" fill="#111" textLength="40.60" lengthAdjust="spacingAndGlyphs" stroke="#111" stroke-width="0.4">Beginning</text>
<path d="M376.4,97.9 C380,98.3 383,99 385,101 C387.5,104 390,105.5 393.2,106.1" stroke="#2a7ec6" stroke-width="1.7" fill="none" stroke-linecap="round"/>
<path d="M387,102.6 L393.2,106.1 L387,109.4" stroke="#2a7ec6" stroke-width="1.7" fill="none" stroke-linecap="round" stroke-linejoin="round"/>
<text x="477.80" y="55.70" font-family='"Liberation Sans", sans-serif' font-size="9.8" font-weight="bold" text-anchor="start" fill="#111" textLength="11.70" lengthAdjust="spacingAndGlyphs" stroke="#111" stroke-width="0.2">T 7</text>
<path d="M485.6,65.4 C485.2,72 484.6,80 484,87.3" stroke="#2a7ec6" stroke-width="1.7" fill="none" stroke-linecap="round"/>
<path d="M480.3,79.8 L484,87.3 L488.1,79.8" stroke="#2a7ec6" stroke-width="1.7" fill="none" stroke-linecap="round" stroke-linejoin="round"/>
<text x="404.60" y="147.10" font-family='"Liberation Sans", sans-serif' font-size="9.9" font-weight="normal" text-anchor="start" fill="#111" textLength="15.30" lengthAdjust="spacingAndGlyphs" stroke="#111" stroke-width="0.4">End</text>
<path d="M426.2,139.3 C430,139 433,138 435,136 C437,133.5 440,132 442.9,131.3" stroke="#2a7ec6" stroke-width="1.7" fill="none" stroke-linecap="round"/>
<path d="M435.6,128.8 L442.9,131.3 L436.4,135.6" stroke="#2a7ec6" stroke-width="1.7" fill="none" stroke-linecap="round" stroke-linejoin="round"/>
<text transform="translate(297.60,159.60) rotate(-90)" font-family='"Liberation Sans", sans-serif' font-size="9.9" font-weight="normal" text-anchor="start" fill="#111" textLength="152.90" lengthAdjust="spacingAndGlyphs" stroke="#111" stroke-width="0.4">Length change rate, <tspan font-style="italic">dL/dt, µm/s</tspan></text>
<text x="383.10" y="198.80" font-family='"Liberation Sans", sans-serif' font-size="10.4" font-weight="normal" text-anchor="start" fill="#111" textLength="78.30" lengthAdjust="spacingAndGlyphs" stroke="#111" stroke-width="0.4">Temperature, <tspan font-style="italic">°C</tspan></text>
<text x="292.90" y="200.70" font-family='"Liberation Sans", sans-serif' font-size="10.4" font-weight="normal" text-anchor="start" fill="#111" textLength="13.10" lengthAdjust="spacingAndGlyphs" stroke="#111" stroke-width="0.4">(b)</text>
<line x1="42.50" y1="361.79" x2="63.60" y2="361.79" stroke="#e3e9f4" stroke-width="1"/>
<line x1="191.00" y1="361.79" x2="261.70" y2="361.79" stroke="#e3e9f4" stroke-width="1"/>
<line x1="42.50" y1="339.37" x2="261.70" y2="339.37" stroke="#e3e9f4" stroke-width="1"/>
<line x1="42.50" y1="316.96" x2="261.70" y2="316.96" stroke="#e3e9f4" stroke-width="1"/>
<line x1="42.50" y1="294.54" x2="261.70" y2="294.54" stroke="#e3e9f4" stroke-width="1"/>
<line x1="42.50" y1="272.13" x2="261.70" y2="272.13" stroke="#e3e9f4" stroke-width="1"/>
<line x1="42.50" y1="249.72" x2="136.40" y2="249.72" stroke="#e3e9f4" stroke-width="1"/>
<line x1="252.60" y1="249.72" x2="261.70" y2="249.72" stroke="#e3e9f4" stroke-width="1"/>
<line x1="42.50" y1="227.30" x2="261.70" y2="227.30" stroke="#e3e9f4" stroke-width="1"/>
<line x1="44.00" y1="227.30" x2="44.00" y2="384.20" stroke="#e2e2e2" stroke-width="1"/>
<line x1="261.70" y1="227.30" x2="261.70" y2="384.20" stroke="#e3e9f4" stroke-width="1"/>
<line x1="42.50" y1="384.20" x2="261.70" y2="384.20" stroke="#dcdcdc" stroke-width="1"/>
<line x1="51.80" y1="384.20" x2="51.80" y2="386.20" stroke="#e2e2e2" stroke-width="1"/>
<line x1="80.77" y1="384.20" x2="80.77" y2="386.20" stroke="#e2e2e2" stroke-width="1"/>
<line x1="109.74" y1="384.20" x2="109.74" y2="386.20" stroke="#e2e2e2" stroke-width="1"/>
<line x1="138.71" y1="384.20" x2="138.71" y2="386.20" stroke="#e2e2e2" stroke-width="1"/>
<line x1="167.68" y1="384.20" x2="167.68" y2="386.20" stroke="#e2e2e2" stroke-width="1"/>
<line x1="196.65" y1="384.20" x2="196.65" y2="386.20" stroke="#e2e2e2" stroke-width="1"/>
<line x1="225.62" y1="384.20" x2="225.62" y2="386.20" stroke="#e2e2e2" stroke-width="1"/>
<line x1="254.59" y1="384.20" x2="254.59" y2="386.20" stroke="#e2e2e2" stroke-width="1"/>
<text x="39.00" y="386.90" font-family='"Liberation Serif", serif' font-size="7.9" font-weight="normal" text-anchor="end" fill="#404040" textLength="11.61" lengthAdjust="spacingAndGlyphs" stroke="#404040" stroke-width="0.2">200</text>
<text x="39.00" y="364.49" font-family='"Liberation Serif", serif' font-size="7.9" font-weight="normal" text-anchor="end" fill="#404040" textLength="11.61" lengthAdjust="spacingAndGlyphs" stroke="#404040" stroke-width="0.2">210</text>
<text x="39.00" y="342.07" font-family='"Liberation Serif", serif' font-size="7.9" font-weight="normal" text-anchor="end" fill="#404040" textLength="11.61" lengthAdjust="spacingAndGlyphs" stroke="#404040" stroke-width="0.2">220</text>
<text x="39.00" y="319.66" font-family='"Liberation Serif", serif' font-size="7.9" font-weight="normal" text-anchor="end" fill="#404040" textLength="11.61" lengthAdjust="spacingAndGlyphs" stroke="#404040" stroke-width="0.2">230</text>
<text x="39.00" y="297.24" font-family='"Liberation Serif", serif' font-size="7.9" font-weight="normal" text-anchor="end" fill="#404040" textLength="11.61" lengthAdjust="spacingAndGlyphs" stroke="#404040" stroke-width="0.2">240</text>
<text x="39.00" y="274.83" font-family='"Liberation Serif", serif' font-size="7.9" font-weight="normal" text-anchor="end" fill="#404040" textLength="11.61" lengthAdjust="spacingAndGlyphs" stroke="#404040" stroke-width="0.2">250</text>
<text x="39.00" y="252.42" font-family='"Liberation Serif", serif' font-size="7.9" font-weight="normal" text-anchor="end" fill="#404040" textLength="11.61" lengthAdjust="spacingAndGlyphs" stroke="#404040" stroke-width="0.2">260</text>
<text x="39.00" y="230.00" font-family='"Liberation Serif", serif' font-size="7.9" font-weight="normal" text-anchor="end" fill="#404040" textLength="11.61" lengthAdjust="spacingAndGlyphs" stroke="#404040" stroke-width="0.2">270</text>
<text x="66.40" y="395.30" font-family='"Liberation Serif", serif' font-size="8.0" font-weight="normal" text-anchor="middle" fill="#4a4a4a" textLength="21.20" lengthAdjust="spacingAndGlyphs" stroke="#4a4a4a" stroke-width="0.15">EV31A</text>
<text x="95.37" y="395.30" font-family='"Liberation Serif", serif' font-size="8.0" font-weight="normal" text-anchor="middle" fill="#4a4a4a" textLength="22.40" lengthAdjust="spacingAndGlyphs" stroke="#4a4a4a" stroke-width="0.15">WE43B</text>
<text x="124.34" y="395.30" font-family='"Liberation Serif", serif' font-size="8.0" font-weight="normal" text-anchor="middle" fill="#4a4a4a" textLength="14.60" lengthAdjust="spacingAndGlyphs" stroke="#4a4a4a" stroke-width="0.15">C355</text>
<text x="153.31" y="395.30" font-family='"Liberation Serif", serif' font-size="8.0" font-weight="normal" text-anchor="middle" fill="#4a4a4a" textLength="21.80" lengthAdjust="spacingAndGlyphs" stroke="#4a4a4a" stroke-width="0.15">QE22A</text>
<text x="182.28" y="395.30" font-family='"Liberation Serif", serif' font-size="8.0" font-weight="normal" text-anchor="middle" fill="#4a4a4a" textLength="15.20" lengthAdjust="spacingAndGlyphs" stroke="#4a4a4a" stroke-width="0.15">A356</text>
<text x="211.25" y="395.30" font-family='"Liberation Serif", serif' font-size="8.0" font-weight="normal" text-anchor="middle" fill="#4a4a4a" textLength="14.30" lengthAdjust="spacingAndGlyphs" stroke="#4a4a4a" stroke-width="0.15">F357</text>
<path d="M249.6,230.1 H225.4 V259.3" fill="none" stroke="#e3edd6" stroke-width="0.9"/>
<text x="218.40" y="236.80" font-family='"Liberation Sans", sans-serif' font-size="9.9" font-weight="normal" text-anchor="end" fill="#111" textLength="38.40" lengthAdjust="spacingAndGlyphs" stroke="#111" stroke-width="0.4">Hardness</text>
<text x="218.40" y="248.90" font-family='"Liberation Sans", sans-serif' font-size="9.9" font-weight="normal" text-anchor="end" fill="#111" textLength="48.60" lengthAdjust="spacingAndGlyphs" stroke="#111" stroke-width="0.4">Dilatometry</text>
<text x="138.40" y="260.30" font-family='"Liberation Sans", sans-serif' font-size="9.9" font-weight="normal" text-anchor="start" fill="#111" textLength="80.00" lengthAdjust="spacingAndGlyphs" stroke="#111" stroke-width="0.4">Electrical resistivity</text>
<path d="M229.90,232.30 L232.10,234.50 L229.90,236.70 L227.70,234.50 Z" fill="#2e78bf" stroke="#215d96" stroke-width="0.8"/>
<path d="M227.40,244.80 H232.40 M229.90,242.30 V247.30" stroke="#9bbb59" stroke-width="1"/>
<path d="M227.70,252.28 L232.10,256.32 M232.10,252.28 L227.70,256.32 M229.90,253.09 V255.51" stroke="#2aaacb" stroke-width="1.3"/>
<path d="M63.40,256.44 H69.40 M66.40,253.44 V259.44" stroke="#9bbb59" stroke-width="1"/>
<path d="M92.37,267.65 H98.37 M95.37,264.65 V270.65" stroke="#9bbb59" stroke-width="1"/>
<path d="M121.34,312.48 H127.34 M124.34,309.48 V315.48" stroke="#9bbb59" stroke-width="1"/>
<path d="M179.28,316.96 H185.28 M182.28,313.96 V319.96" stroke="#9bbb59" stroke-width="1"/>
<path d="M208.25,321.44 H214.25 M211.25,318.44 V324.44" stroke="#9bbb59" stroke-width="1"/>
<path d="M63.60,280.76 L69.20,285.91 M69.20,280.76 L63.60,285.91 M66.40,281.79 V284.88" stroke="#2aaacb" stroke-width="1.3"/>
<path d="M92.57,296.45 L98.17,301.60 M98.17,296.45 L92.57,301.60 M95.37,297.48 V300.57" stroke="#2aaacb" stroke-width="1.3"/>
<path d="M121.54,265.07 L127.14,270.22 M127.14,265.07 L121.54,270.22 M124.34,266.10 V269.19" stroke="#2aaacb" stroke-width="1.3"/>
<path d="M179.48,285.24 L185.08,290.40 M185.08,285.24 L179.48,290.40 M182.28,286.27 V289.37" stroke="#2aaacb" stroke-width="1.3"/>
<path d="M208.45,280.76 L214.05,285.91 M214.05,280.76 L208.45,285.91 M211.25,281.79 V284.88" stroke="#2aaacb" stroke-width="1.3"/>
<path d="M66.40,268.43 L70.10,272.13 L66.40,275.83 L62.70,272.13 Z" fill="#2e78bf" stroke="#215d96" stroke-width="0.8"/>
<path d="M95.37,268.43 L99.07,272.13 L95.37,275.83 L91.67,272.13 Z" fill="#2e78bf" stroke="#215d96" stroke-width="0.8"/>
<path d="M124.34,295.33 L128.04,299.03 L124.34,302.73 L120.64,299.03 Z" fill="#2e78bf" stroke="#215d96" stroke-width="0.8"/>
<path d="M153.31,324.46 L157.01,328.16 L153.31,331.86 L149.61,328.16 Z" fill="#2e78bf" stroke="#215d96" stroke-width="0.8"/>
<path d="M182.28,324.46 L185.98,328.16 L182.28,331.86 L178.58,328.16 Z" fill="#2e78bf" stroke="#215d96" stroke-width="0.8"/>
<path d="M211.25,335.67 L214.95,339.37 L211.25,343.07 L207.55,339.37 Z" fill="#2e78bf" stroke="#215d96" stroke-width="0.8"/>
<text x="65.40" y="366.00" font-family='"Liberation Sans", sans-serif' font-size="9.9" font-weight="normal" text-anchor="start" fill="#111" textLength="124.40" lengthAdjust="spacingAndGlyphs" stroke="#111" stroke-width="0.4">Reduction of thermal stability</text>
<line x1="65.20" y1="372.20" x2="213.00" y2="372.20" stroke="#2e78bf" stroke-width="1.8"/>
<path d="M210.5,368.8 L218,372.2 L210.5,375.6 Z" fill="#2e78bf"/>
<text transform="translate(14.90,375.40) rotate(-90)" font-family='"Liberation Sans", sans-serif' font-size="10.0" font-weight="normal" text-anchor="start" fill="#111" textLength="127.80" lengthAdjust="spacingAndGlyphs" stroke="#111" stroke-width="0.4">Transition temperature, °C</text>
<text x="117.40" y="414.60" font-family='"Liberation Sans", sans-serif' font-size="10.4" font-weight="normal" text-anchor="start" fill="#111" textLength="53.40" lengthAdjust="spacingAndGlyphs" stroke="#111" stroke-width="0.4">Alloy grade</text>
<text x="26.80" y="415.20" font-family='"Liberation Sans", sans-serif' font-size="10.4" font-weight="normal" text-anchor="start" fill="#111" textLength="12.40" lengthAdjust="spacingAndGlyphs" stroke="#111" stroke-width="0.5">(d)</text>
<line x1="313.60" y1="385.95" x2="518.20" y2="385.95" stroke="#d6d6d6" stroke-width="1"/>
<text x="310.00" y="388.45" font-family='"Liberation Serif", serif' font-size="7.6" font-weight="normal" text-anchor="end" fill="#404040" textLength="6.54" lengthAdjust="spacingAndGlyphs" stroke="#404040" stroke-width="0.2">40</text>
<line x1="313.60" y1="358.98" x2="518.20" y2="358.98" stroke="#d6d6d6" stroke-width="1"/>
<text x="310.00" y="361.48" font-family='"Liberation Serif", serif' font-size="7.6" font-weight="normal" text-anchor="end" fill="#404040" textLength="6.54" lengthAdjust="spacingAndGlyphs" stroke="#404040" stroke-width="0.2">50</text>
<line x1="313.60" y1="332.00" x2="518.20" y2="332.00" stroke="#d6d6d6" stroke-width="1"/>
<text x="310.00" y="334.50" font-family='"Liberation Serif", serif' font-size="7.6" font-weight="normal" text-anchor="end" fill="#404040" textLength="6.54" lengthAdjust="spacingAndGlyphs" stroke="#404040" stroke-width="0.2">60</text>
<line x1="313.60" y1="305.02" x2="518.20" y2="305.02" stroke="#d6d6d6" stroke-width="1"/>
<text x="310.00" y="307.52" font-family='"Liberation Serif", serif' font-size="7.6" font-weight="normal" text-anchor="end" fill="#404040" textLength="6.54" lengthAdjust="spacingAndGlyphs" stroke="#404040" stroke-width="0.2">70</text>
<line x1="313.60" y1="278.05" x2="518.20" y2="278.05" stroke="#d6d6d6" stroke-width="1"/>
<text x="310.00" y="280.55" font-family='"Liberation Serif", serif' font-size="7.6" font-weight="normal" text-anchor="end" fill="#404040" textLength="6.54" lengthAdjust="spacingAndGlyphs" stroke="#404040" stroke-width="0.2">80</text>
<line x1="313.60" y1="251.07" x2="432.70" y2="251.07" stroke="#d6d6d6" stroke-width="1"/>
<text x="310.00" y="253.57" font-family='"Liberation Serif", serif' font-size="7.6" font-weight="normal" text-anchor="end" fill="#404040" textLength="6.54" lengthAdjust="spacingAndGlyphs" stroke="#404040" stroke-width="0.2">90</text>
<line x1="313.60" y1="224.10" x2="518.20" y2="224.10" stroke="#d6d6d6" stroke-width="1"/>
<text x="310.00" y="226.60" font-family='"Liberation Serif", serif' font-size="7.6" font-weight="normal" text-anchor="end" fill="#404040" textLength="9.81" lengthAdjust="spacingAndGlyphs" stroke="#404040" stroke-width="0.2">100</text>
<line x1="315.60" y1="224.10" x2="315.60" y2="385.95" stroke="#e2e2e2" stroke-width="1"/>
<line x1="518.20" y1="224.10" x2="518.20" y2="385.95" stroke="#d6d6d6" stroke-width="1"/>
<line x1="516.80" y1="225.90" x2="516.80" y2="262.70" stroke="#cdcdcd" stroke-width="1.2"/>
<line x1="315.60" y1="385.95" x2="315.60" y2="387.95" stroke="#e2e2e2" stroke-width="1"/>
<text x="315.60" y="396.90" font-family='"Liberation Serif", serif' font-size="7.8" font-weight="normal" text-anchor="middle" fill="#404040" textLength="3.40" lengthAdjust="spacingAndGlyphs" stroke="#404040" stroke-width="0.2">0</text>
<line x1="333.99" y1="385.95" x2="333.99" y2="387.95" stroke="#e2e2e2" stroke-width="1"/>
<text x="333.99" y="396.90" font-family='"Liberation Serif", serif' font-size="7.8" font-weight="normal" text-anchor="middle" fill="#404040" textLength="6.80" lengthAdjust="spacingAndGlyphs" stroke="#404040" stroke-width="0.2">50</text>
<line x1="352.38" y1="385.95" x2="352.38" y2="387.95" stroke="#e2e2e2" stroke-width="1"/>
<text x="352.38" y="396.90" font-family='"Liberation Serif", serif' font-size="7.8" font-weight="normal" text-anchor="middle" fill="#404040" textLength="10.20" lengthAdjust="spacingAndGlyphs" stroke="#404040" stroke-width="0.2">100</text>
<line x1="370.77" y1="385.95" x2="370.77" y2="387.95" stroke="#e2e2e2" stroke-width="1"/>
<text x="370.77" y="396.90" font-family='"Liberation Serif", serif' font-size="7.8" font-weight="normal" text-anchor="middle" fill="#404040" textLength="10.20" lengthAdjust="spacingAndGlyphs" stroke="#404040" stroke-width="0.2">150</text>
<line x1="389.16" y1="385.95" x2="389.16" y2="387.95" stroke="#e2e2e2" stroke-width="1"/>
<text x="389.16" y="396.90" font-family='"Liberation Serif", serif' font-size="7.8" font-weight="normal" text-anchor="middle" fill="#404040" textLength="10.20" lengthAdjust="spacingAndGlyphs" stroke="#404040" stroke-width="0.2">200</text>
<line x1="407.55" y1="385.95" x2="407.55" y2="387.95" stroke="#e2e2e2" stroke-width="1"/>
<text x="407.55" y="396.90" font-family='"Liberation Serif", serif' font-size="7.8" font-weight="normal" text-anchor="middle" fill="#404040" textLength="10.20" lengthAdjust="spacingAndGlyphs" stroke="#404040" stroke-width="0.2">250</text>
<line x1="425.94" y1="385.95" x2="425.94" y2="387.95" stroke="#e2e2e2" stroke-width="1"/>
<text x="425.94" y="396.90" font-family='"Liberation Serif", serif' font-size="7.8" font-weight="normal" text-anchor="middle" fill="#404040" textLength="10.20" lengthAdjust="spacingAndGlyphs" stroke="#404040" stroke-width="0.2">300</text>
<line x1="444.33" y1="385.95" x2="444.33" y2="387.95" stroke="#e2e2e2" stroke-width="1"/>
<text x="444.33" y="396.90" font-family='"Liberation Serif", serif' font-size="7.8" font-weight="normal" text-anchor="middle" fill="#404040" textLength="10.20" lengthAdjust="spacingAndGlyphs" stroke="#404040" stroke-width="0.2">350</text>
<line x1="462.72" y1="385.95" x2="462.72" y2="387.95" stroke="#e2e2e2" stroke-width="1"/>
<text x="462.72" y="396.90" font-family='"Liberation Serif", serif' font-size="7.8" font-weight="normal" text-anchor="middle" fill="#404040" textLength="10.20" lengthAdjust="spacingAndGlyphs" stroke="#404040" stroke-width="0.2">400</text>
<line x1="481.11" y1="385.95" x2="481.11" y2="387.95" stroke="#e2e2e2" stroke-width="1"/>
<text x="481.11" y="396.90" font-family='"Liberation Serif", serif' font-size="7.8" font-weight="normal" text-anchor="middle" fill="#404040" textLength="10.20" lengthAdjust="spacingAndGlyphs" stroke="#404040" stroke-width="0.2">450</text>
<line x1="499.50" y1="385.95" x2="499.50" y2="387.95" stroke="#e2e2e2" stroke-width="1"/>
<text x="499.50" y="396.90" font-family='"Liberation Serif", serif' font-size="7.8" font-weight="normal" text-anchor="middle" fill="#404040" textLength="10.20" lengthAdjust="spacingAndGlyphs" stroke="#404040" stroke-width="0.2">500</text>
<line x1="517.89" y1="385.95" x2="517.89" y2="387.95" stroke="#e2e2e2" stroke-width="1"/>
<text x="517.89" y="396.90" font-family='"Liberation Serif", serif' font-size="7.8" font-weight="normal" text-anchor="middle" fill="#404040" textLength="10.20" lengthAdjust="spacingAndGlyphs" stroke="#404040" stroke-width="0.2">550</text>
<line x1="370.77" y1="230.82" x2="370.77" y2="243.82" stroke="#ababab" stroke-width="0.8"/>
<line x1="425.94" y1="307.70" x2="425.94" y2="320.70" stroke="#ababab" stroke-width="0.8"/>
<line x1="448.01" y1="344.11" x2="448.01" y2="357.11" stroke="#ababab" stroke-width="0.8"/>
<line x1="462.72" y1="341.69" x2="462.72" y2="354.69" stroke="#ababab" stroke-width="0.8"/>
<line x1="481.11" y1="337.37" x2="481.11" y2="350.37" stroke="#ababab" stroke-width="0.8"/>
<line x1="499.50" y1="321.18" x2="499.50" y2="334.18" stroke="#ababab" stroke-width="0.8"/>
<line x1="352.38" y1="304.46" x2="352.38" y2="317.46" stroke="#ababab" stroke-width="0.8"/>
<line x1="379.97" y1="299.60" x2="379.97" y2="312.60" stroke="#ababab" stroke-width="0.8"/>
<line x1="398.36" y1="302.03" x2="398.36" y2="315.03" stroke="#ababab" stroke-width="0.8"/>
<line x1="416.75" y1="313.36" x2="416.75" y2="326.36" stroke="#ababab" stroke-width="0.8"/>
<line x1="448.01" y1="340.34" x2="448.01" y2="353.34" stroke="#ababab" stroke-width="0.8"/>
<line x1="462.72" y1="346.27" x2="462.72" y2="359.27" stroke="#ababab" stroke-width="0.8"/>
<line x1="481.11" y1="344.11" x2="481.11" y2="357.11" stroke="#ababab" stroke-width="0.8"/>
<line x1="499.50" y1="314.98" x2="499.50" y2="327.98" stroke="#ababab" stroke-width="0.8"/>
<path d="M324.80,236.78 L352.38,233.27 L370.77,237.32 L379.97,233.54 L389.16,238.40 L398.36,238.40 L407.55,257.55 L416.75,284.79 L425.94,314.20 L436.97,336.32 L448.01,350.61 L462.72,348.19 L481.11,343.87 L499.50,327.68" stroke="#2b2b2b" stroke-width="1.2" fill="none" stroke-linejoin="round"/>
<path d="M324.80,310.96 L352.38,310.96 L370.77,309.61 L379.97,306.10 L389.16,310.69 L398.36,308.53 L407.55,308.26 L416.75,319.86 L425.94,332.00 L436.97,336.05 L448.01,346.84 L462.72,352.77 L481.11,350.61 L499.50,321.48" stroke="#2b2b2b" stroke-width="1.2" fill="none" stroke-linejoin="round"/>
<rect x="322.19" y="234.18" width="5.2" height="5.2" fill="#0a14ff"/>
<rect x="349.78" y="230.67" width="5.2" height="5.2" fill="#0a14ff"/>
<rect x="368.17" y="234.72" width="5.2" height="5.2" fill="#0a14ff"/>
<rect x="377.37" y="230.94" width="5.2" height="5.2" fill="#0a14ff"/>
<rect x="386.56" y="235.80" width="5.2" height="5.2" fill="#0a14ff"/>
<rect x="395.75" y="235.80" width="5.2" height="5.2" fill="#0a14ff"/>
<rect x="404.95" y="254.95" width="5.2" height="5.2" fill="#0a14ff"/>
<rect x="414.14" y="282.19" width="5.2" height="5.2" fill="#0a14ff"/>
<rect x="423.34" y="311.60" width="5.2" height="5.2" fill="#0a14ff"/>
<rect x="434.37" y="333.72" width="5.2" height="5.2" fill="#0a14ff"/>
<rect x="445.41" y="348.01" width="5.2" height="5.2" fill="#0a14ff"/>
<rect x="460.12" y="345.58" width="5.2" height="5.2" fill="#0a14ff"/>
<rect x="478.51" y="341.27" width="5.2" height="5.2" fill="#0a14ff"/>
<rect x="496.90" y="325.08" width="5.2" height="5.2" fill="#0a14ff"/>
<rect x="478.51" y="339.07" width="5.2" height="5.2" fill="#0a14ff"/>
<rect x="322.19" y="308.36" width="5.2" height="5.2" fill="#ff1010"/>
<rect x="349.78" y="308.36" width="5.2" height="5.2" fill="#ff1010"/>
<rect x="368.17" y="307.01" width="5.2" height="5.2" fill="#ff1010"/>
<rect x="377.37" y="303.50" width="5.2" height="5.2" fill="#ff1010"/>
<rect x="386.56" y="308.09" width="5.2" height="5.2" fill="#ff1010"/>
<rect x="395.75" y="305.93" width="5.2" height="5.2" fill="#ff1010"/>
<rect x="404.95" y="305.66" width="5.2" height="5.2" fill="#ff1010"/>
<rect x="414.14" y="317.26" width="5.2" height="5.2" fill="#ff1010"/>
<rect x="423.34" y="329.40" width="5.2" height="5.2" fill="#ff1010"/>
<rect x="434.37" y="333.45" width="5.2" height="5.2" fill="#ff1010"/>
<rect x="445.41" y="344.24" width="5.2" height="5.2" fill="#ff1010"/>
<rect x="460.12" y="350.17" width="5.2" height="5.2" fill="#ff1010"/>
<rect x="478.51" y="348.01" width="5.2" height="5.2" fill="#ff1010"/>
<rect x="496.90" y="318.88" width="5.2" height="5.2" fill="#ff1010"/>
<text x="330.30" y="270.40" font-family='"Liberation Sans", sans-serif' font-size="9.8" font-weight="normal" text-anchor="start" fill="#111" textLength="10.10" lengthAdjust="spacingAndGlyphs" stroke="#111" stroke-width="0.35">T6</text>
<path d="M335.6,260.4 C335.8,253 336,246 336.3,239.6" stroke="#2a7ec6" stroke-width="1.7" fill="none" stroke-linecap="round"/>
<path d="M332.3,245.2 L336.3,239.6 L340.4,245.2" stroke="#2a7ec6" stroke-width="1.7" fill="none" stroke-linecap="round" stroke-linejoin="round"/>
<text x="335.60" y="347.70" font-family='"Liberation Sans", sans-serif' font-size="9.8" font-weight="normal" text-anchor="start" fill="#111" textLength="11.60" lengthAdjust="spacingAndGlyphs" stroke="#111" stroke-width="0.35">T 7</text>
<path d="M336,333.6 C335.9,327 335.8,320 335.6,314" stroke="#2a7ec6" stroke-width="1.7" fill="none" stroke-linecap="round"/>
<path d="M332,319.6 L335.6,314 L340,319.6" stroke="#2a7ec6" stroke-width="1.7" fill="none" stroke-linecap="round" stroke-linejoin="round"/>
<text x="435.50" y="239.50" font-family='"Liberation Sans", sans-serif' font-size="9.9" font-weight="normal" text-anchor="start" fill="#111" textLength="38.80" lengthAdjust="spacingAndGlyphs" stroke="#111" stroke-width="0.4">Hardness</text>
<text x="435.60" y="252.30" font-family='"Liberation Sans", sans-serif' font-size="9.9" font-weight="normal" text-anchor="start" fill="#111" textLength="40.10" lengthAdjust="spacingAndGlyphs" stroke="#111" stroke-width="0.4">transition</text>
<text x="435.50" y="264.60" font-family='"Liberation Sans", sans-serif' font-size="9.9" font-weight="normal" text-anchor="start" fill="#111" textLength="53.70" lengthAdjust="spacingAndGlyphs" stroke="#111" stroke-width="0.4">temperature</text>
<path d="M429.5,239 C423,238.6 416,238 408.2,237.6" stroke="#2a7ec6" stroke-width="1.7" fill="none" stroke-linecap="round"/>
<path d="M412.6,234.1 L408.2,237.6 L412.6,242" stroke="#2a7ec6" stroke-width="1.7" fill="none" stroke-linecap="round" stroke-linejoin="round"/>
<text transform="translate(290.20,362.30) rotate(-90)" font-family='"Liberation Sans", sans-serif' font-size="10.0" font-weight="normal" text-anchor="start" fill="#111" textLength="121.60" lengthAdjust="spacingAndGlyphs" stroke="#111" stroke-width="0.4">Rockwell F hardness, <tspan font-style="italic">HRF</tspan></text>
<text x="381.90" y="413.40" font-family='"Liberation Sans", sans-serif' font-size="10.4" font-weight="normal" text-anchor="start" fill="#111" textLength="78.30" lengthAdjust="spacingAndGlyphs" stroke="#111" stroke-width="0.4">Temperature, <tspan font-style="italic">°C</tspan></text>
<text x="294.60" y="413.10" font-family='"Liberation Sans", sans-serif' font-size="10.4" font-weight="normal" text-anchor="start" fill="#111" textLength="11.10" lengthAdjust="spacingAndGlyphs" stroke="#111" stroke-width="0.5">(c)</text>
</svg>
</body></html>
